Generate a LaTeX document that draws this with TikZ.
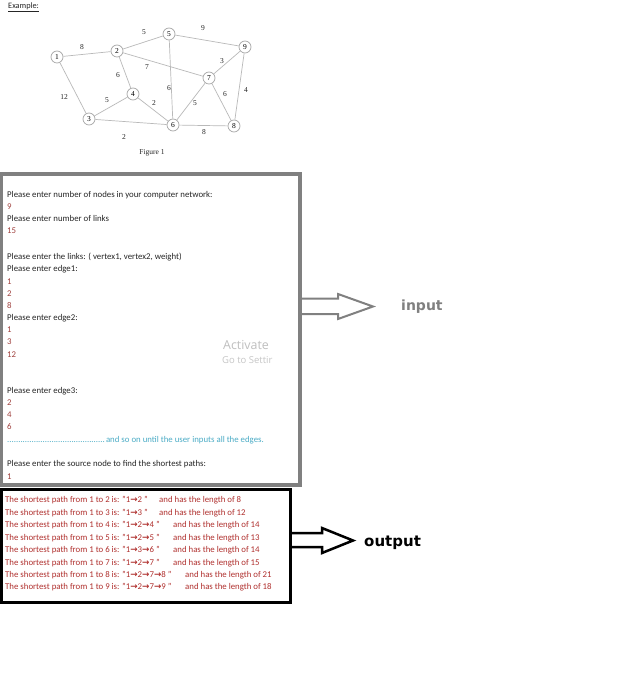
\documentclass[tikz,border=0pt]{standalone}
\usepackage{fontspec}
\setmainfont{Carlito}
\newfontfamily\seriffam{Liberation Serif}
\newfontfamily\dejavu{DejaVu Sans}
\newfontfamily\dejavubold{DejaVu Sans Bold}
\newfontfamily\opensans{Open Sans}
\definecolor{numred}{HTML}{A0413E}
\definecolor{outred}{HTML}{B0302E}
\definecolor{soblue}{HTML}{4BACC6}
\definecolor{txt}{HTML}{262626}
\definecolor{boxgray}{HTML}{808080}
\newcommand{\arw}{{\dejavubold →}}
\begin{document}
\begin{tikzpicture}[x=1pt,y=-1pt,
  vert/.style={circle, draw=gray!70, line width=0.7pt, fill=white, inner sep=0pt, minimum size=12pt, font=\seriffam\fontsize{7.5}{7.5}\selectfont},
  gedge/.style={draw=gray!55, line width=0.7pt},
  wlab/.style={font=\seriffam\fontsize{7.5}{7.5}\selectfont, inner sep=0pt, text=txt},
  tline/.style={anchor=base west, inner sep=0pt, font=\fontsize{8.8}{10}\selectfont, text=txt},
  nline/.style={tline, text=numred},
  oline/.style={tline, text=outred},
  blockarrow/.style={line width=2pt, line join=miter}
]
\useasboundingbox (0,0) rectangle (640,700);
\fill[white] (0,0) rectangle (640,700);

% ---------- Example graph ----------
\node[anchor=west, inner sep=0pt, text=txt, font=\fontsize{8.3}{10}\selectfont] (ex) at (8,7) {\underline{Example:}};

\node[vert] (v1) at (57,57) {1};
\node[vert] (v2) at (117,51) {2};
\node[vert] (v5) at (169,34) {5};
\node[vert] (v9) at (245,47) {9};
\node[vert] (v7) at (209,78) {7};
\node[vert] (v4) at (133,94) {4};
\node[vert] (v3) at (89,119) {3};
\node[vert] (v6) at (173,125) {6};
\node[vert] (v8) at (234,126) {8};

\foreach \a/\b in {1/2,1/3,2/5,2/4,2/7,5/9,5/6,9/7,9/8,7/6,7/8,4/3,4/6,3/6,6/8}
  \draw[gedge] (v\a) -- (v\b);

\node[wlab] (w12) at (82,47) {8};
\node[wlab] (w25) at (144,32) {5};
\node[wlab] (w59) at (203,28) {9};
\node[wlab] (w27) at (147,67) {7};
\node[wlab] (w24) at (118,75) {6};
\node[wlab] (w97) at (222,61) {3};
\node[wlab] (w98) at (246,90) {4};
\node[wlab] (w56) at (169,88) {6};
\node[wlab] (w13) at (64,97) {12};
\node[wlab] (w34) at (107,100) {5};
\node[wlab] (w46) at (154,103) {2};
\node[wlab] (w76) at (195,103) {5};
\node[wlab] (w78) at (225,94) {6};
\node[wlab] (w68) at (204,132) {8};
\node[wlab] (w36) at (124,137) {2};
\node[wlab] (fig) at (152,153) {Figure 1};

% ---------- Input box ----------
\draw[boxgray, line width=3.5pt] (1,174) rectangle (300,485);

\node[tline] (in1)  at (7,198) {Please enter number of nodes in your computer network:};
\node[nline] (in2)  at (7,210) {9};
\node[tline] (in3)  at (7,222) {Please enter number of links};
\node[nline] (in4)  at (7,234) {15};
\node[tline] (in5)  at (7,259) {Please enter the links: ( vertex1, vertex2, weight)};
\node[tline] (in6)  at (7,271) {Please enter edge1:};
\node[nline] (in7)  at (7,284) {1};
\node[nline] (in8)  at (7,296) {2};
\node[nline] (in9)  at (7,308) {8};
\node[tline] (in10) at (7,320) {Please enter edge2:};
\node[nline] (in11) at (7,332) {1};
\node[nline] (in12) at (7,344.5) {3};
\node[nline] (in13) at (7,357) {12};
\node[tline] (in14) at (7,393) {Please enter edge3:};
\node[nline] (in15) at (7,405) {2};
\node[nline] (in16) at (7,417) {4};
\node[nline] (in17) at (7,429) {6};
\node[tline, text=soblue] (in18) at (7,442) {\makebox[99pt][l]{\leaders\hbox{.}\hfill}and so on until the user inputs all the edges.};
\node[tline] (in19) at (7,466.5) {Please enter the source node to find the shortest paths:};
\node[nline] (in20) at (7,479) {1};

\node[anchor=base west, inner sep=0pt, text=gray!50, font=\opensans\fontsize{12.4}{14}\selectfont] (act) at (223,349.5) {Activate};
\node[anchor=base west, inner sep=0pt, text=gray!45, font=\opensans\fontsize{9.5}{11}\selectfont] (gos) at (222,363) {Go to Settir};

% ---------- Input arrow ----------
\draw[boxgray, blockarrow] (300,298.5) -- (338,298.5) -- (338,294) -- (373,306.5) -- (338,319) -- (338,314) -- (300,314);
\node[anchor=base west, inner sep=0pt, text=boxgray, font=\dejavubold\fontsize{14}{16}\selectfont] (inlab) at (401,310.5) {input};

% ---------- Output box ----------
\draw[black, line width=3pt] (1.5,489.5) rectangle (290,602.5);

\node[oline] (o1) at (5,502.5) {The shortest path from 1 to 2 is: "1\arw2 "};
\node[oline] (a1) at (159,502.5) {and has the length of 8};
\node[oline] (o2) at (5,515) {The shortest path from 1 to 3 is: "1\arw3 "};
\node[oline] (a2) at (159,515) {and has the length of 12};
\node[oline] (o3) at (5,527.5) {The shortest path from 1 to 4 is: "1\arw2\arw4 "};
\node[oline] (a3) at (173,527.5) {and has the length of 14};
\node[oline] (o4) at (5,540) {The shortest path from 1 to 5 is: "1\arw2\arw5 "};
\node[oline] (a4) at (173,540) {and has the length of 13};
\node[oline] (o5) at (5,552) {The shortest path from 1 to 6 is: "1\arw3\arw6 "};
\node[oline] (a5) at (173,552) {and has the length of 14};
\node[oline] (o6) at (5,565) {The shortest path from 1 to 7 is: "1\arw2\arw7 "};
\node[oline] (a6) at (173,565) {and has the length of 15};
\node[oline] (o7) at (5,577) {The shortest path from 1 to 8 is: "1\arw2\arw7\arw8 "};
\node[oline] (a7) at (185,577) {and has the length of 21};
\node[oline] (o8) at (5,589.5) {The shortest path from 1 to 9 is: "1\arw2\arw7\arw9 "};
\node[oline] (a8) at (185,589.5) {and has the length of 18};

% ---------- Output arrow ----------
\draw[black, blockarrow, line width=2.5pt] (290,533) -- (322,533) -- (322,528) -- (353,540.5) -- (322,553) -- (322,547) -- (290,547);
\node[anchor=base west, inner sep=0pt, text=black, font=\dejavubold\fontsize{15}{17}\selectfont] (outlab) at (364,546) {output};
\end{tikzpicture}
\end{document}
